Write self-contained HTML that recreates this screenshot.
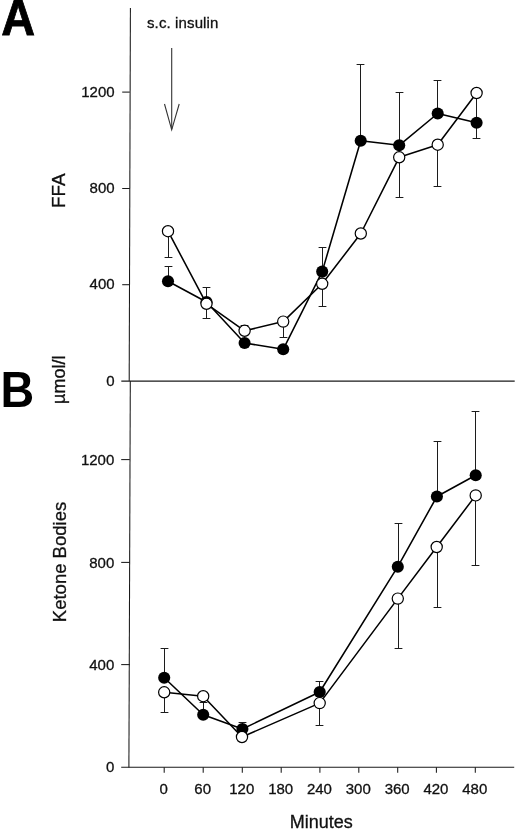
<!DOCTYPE html>
<html><head><meta charset="utf-8"><title>Figure</title>
<style>
html,body{margin:0;padding:0;background:#fff;}
svg{display:block;}
text{font-family:"Liberation Sans",Arial,Helvetica,sans-serif;fill:#111;stroke:#111;stroke-width:0.3px;}
.t{font-size:15px;}
.l{font-size:18px;}
.b{font-size:48px;font-weight:bold;fill:#000;stroke:none;}
</style></head><body>
<svg width="520" height="834" viewBox="0 0 520 834">
<rect width="520" height="834" fill="#fff"/>
<g stroke="#1a1a1a" stroke-width="1.05" fill="none">
<line x1="130.4" y1="8.1" x2="129.2" y2="381.1"/>
<line x1="130.3" y1="381.1" x2="128.9" y2="767.6"/>
<line x1="121.3" y1="381.1" x2="514.7" y2="381.1"/>
<line x1="121.2" y1="767.25" x2="514.2" y2="767.25"/>
</g>
<g stroke="#1a1a1a" stroke-width="1.05" fill="none">
<line x1="122.2" y1="92.1" x2="129.8" y2="92.1"/>
<line x1="122.2" y1="188.5" x2="129.8" y2="188.5"/>
<line x1="122.2" y1="284.7" x2="129.8" y2="284.7"/>
<line x1="121.2" y1="459.6" x2="129.8" y2="459.6"/>
<line x1="121.2" y1="562.4" x2="129.8" y2="562.4"/>
<line x1="121.2" y1="664.6" x2="129.8" y2="664.6"/>
<line x1="164.2" y1="767.2" x2="164.2" y2="772.8"/>
<line x1="203.2" y1="767.2" x2="203.2" y2="772.8"/>
<line x1="242.3" y1="767.2" x2="242.3" y2="772.8"/>
<line x1="281.2" y1="767.2" x2="281.2" y2="772.8"/>
<line x1="319.9" y1="767.2" x2="319.9" y2="772.8"/>
<line x1="358.8" y1="767.2" x2="358.8" y2="772.8"/>
<line x1="397.7" y1="767.2" x2="397.7" y2="772.8"/>
<line x1="436.4" y1="767.2" x2="436.4" y2="772.8"/>
<line x1="475.3" y1="767.2" x2="475.3" y2="772.8"/>
</g>
<g stroke="#333" stroke-width="1.1" fill="none"><line x1="171.7" y1="48" x2="171.7" y2="129"/><polyline points="164.5,104 171.7,129.8 179.2,104"/></g>
<g stroke="#1c1c1c" stroke-width="1.0" fill="none">
<line x1="168.5" y1="231.2" x2="168.5" y2="257.5"/><line x1="164.6" y1="257.5" x2="172.4" y2="257.5"/>
<line x1="168.5" y1="281.2" x2="168.5" y2="266.5"/><line x1="164.6" y1="266.5" x2="172.4" y2="266.5"/>
<line x1="206.5" y1="303.8" x2="206.5" y2="287.5"/><line x1="202.6" y1="287.5" x2="210.4" y2="287.5"/>
<line x1="206.5" y1="303.8" x2="206.5" y2="318.5"/><line x1="202.6" y1="318.5" x2="210.4" y2="318.5"/>
<line x1="244.5" y1="330.8" x2="244.5" y2="325.5"/><line x1="240.6" y1="325.5" x2="248.4" y2="325.5"/>
<line x1="283.5" y1="321.6" x2="283.5" y2="337.5"/><line x1="279.6" y1="337.5" x2="287.4" y2="337.5"/>
<line x1="322.5" y1="271.6" x2="322.5" y2="247.5"/><line x1="318.6" y1="247.5" x2="326.4" y2="247.5"/>
<line x1="322.5" y1="283.8" x2="322.5" y2="306.5"/><line x1="318.6" y1="306.5" x2="326.4" y2="306.5"/>
<line x1="360.5" y1="140.7" x2="360.5" y2="64.5"/><line x1="356.6" y1="64.5" x2="364.4" y2="64.5"/>
<line x1="399.5" y1="145.3" x2="399.5" y2="92.5"/><line x1="395.6" y1="92.5" x2="403.4" y2="92.5"/>
<line x1="399.5" y1="157.3" x2="399.5" y2="197.5"/><line x1="395.6" y1="197.5" x2="403.4" y2="197.5"/>
<line x1="437.5" y1="113.5" x2="437.5" y2="80.5"/><line x1="433.6" y1="80.5" x2="441.4" y2="80.5"/>
<line x1="437.5" y1="144.7" x2="437.5" y2="186.5"/><line x1="433.6" y1="186.5" x2="441.4" y2="186.5"/>
<line x1="476.5" y1="93" x2="476.5" y2="138.5"/><line x1="472.6" y1="138.5" x2="480.4" y2="138.5"/>
<line x1="164.5" y1="677.8" x2="164.5" y2="648.5"/><line x1="160.6" y1="648.5" x2="168.4" y2="648.5"/>
<line x1="164.5" y1="692.3" x2="164.5" y2="712.5"/><line x1="160.6" y1="712.5" x2="168.4" y2="712.5"/>
<line x1="203.5" y1="714.7" x2="203.5" y2="702.5"/><line x1="199.6" y1="702.5" x2="207.4" y2="702.5"/>
<line x1="242.5" y1="729" x2="242.5" y2="722.5"/><line x1="238.6" y1="722.5" x2="246.4" y2="722.5"/>
<line x1="319.5" y1="692" x2="319.5" y2="681.5"/><line x1="315.6" y1="681.5" x2="323.4" y2="681.5"/>
<line x1="319.5" y1="703.1" x2="319.5" y2="725.5"/><line x1="315.6" y1="725.5" x2="323.4" y2="725.5"/>
<line x1="398.5" y1="566.7" x2="398.5" y2="523.5"/><line x1="394.6" y1="523.5" x2="402.4" y2="523.5"/>
<line x1="398.5" y1="598.6" x2="398.5" y2="648.5"/><line x1="394.6" y1="648.5" x2="402.4" y2="648.5"/>
<line x1="437.5" y1="496.5" x2="437.5" y2="441.5"/><line x1="433.6" y1="441.5" x2="441.4" y2="441.5"/>
<line x1="437.5" y1="547" x2="437.5" y2="607.5"/><line x1="433.6" y1="607.5" x2="441.4" y2="607.5"/>
<line x1="475.5" y1="475.3" x2="475.5" y2="411.5"/><line x1="471.6" y1="411.5" x2="479.4" y2="411.5"/>
<line x1="475.5" y1="495.4" x2="475.5" y2="565.5"/><line x1="471.6" y1="565.5" x2="479.4" y2="565.5"/>
</g>
<g stroke="#000" stroke-width="1.55" fill="none" stroke-linejoin="round">
<polyline points="168,281.2 206.5,302 244.6,343 283.2,349.3 322.2,271.6 360.7,140.7 399.2,145.3 437.7,113.5 476.6,122.8"/>
<polyline points="168,231.2 206.5,303.8 244.6,330.8 283.2,321.6 322.2,283.8 360.8,233.5 399.2,157.3 437.7,144.7 476.6,93"/>
<polyline points="164.2,677.8 203.2,714.7 242.4,729 319.7,692 397.8,566.7 436.9,496.5 475.7,475.3"/>
<polyline points="164.2,692.3 203.2,696.2 242,737 319.7,703.1 397.8,598.6 436.7,547 475.7,495.4"/>
</g>
<circle cx="168" cy="281.2" r="6.05" fill="#000"/>
<circle cx="206.5" cy="302" r="6.05" fill="#000"/>
<circle cx="244.6" cy="343" r="6.05" fill="#000"/>
<circle cx="283.2" cy="349.3" r="6.05" fill="#000"/>
<circle cx="322.2" cy="271.6" r="6.05" fill="#000"/>
<circle cx="360.7" cy="140.7" r="6.05" fill="#000"/>
<circle cx="399.2" cy="145.3" r="6.05" fill="#000"/>
<circle cx="437.7" cy="113.5" r="6.05" fill="#000"/>
<circle cx="476.6" cy="122.8" r="6.05" fill="#000"/>
<circle cx="168" cy="231.2" r="5.6" fill="#fff" stroke="#000" stroke-width="1.2"/>
<circle cx="206.5" cy="303.8" r="5.6" fill="#fff" stroke="#000" stroke-width="1.2"/>
<circle cx="244.6" cy="330.8" r="5.6" fill="#fff" stroke="#000" stroke-width="1.2"/>
<circle cx="283.2" cy="321.6" r="5.6" fill="#fff" stroke="#000" stroke-width="1.2"/>
<circle cx="322.2" cy="283.8" r="5.6" fill="#fff" stroke="#000" stroke-width="1.2"/>
<circle cx="360.8" cy="233.5" r="5.6" fill="#fff" stroke="#000" stroke-width="1.2"/>
<circle cx="399.2" cy="157.3" r="5.6" fill="#fff" stroke="#000" stroke-width="1.2"/>
<circle cx="437.7" cy="144.7" r="5.6" fill="#fff" stroke="#000" stroke-width="1.2"/>
<circle cx="476.6" cy="93" r="5.6" fill="#fff" stroke="#000" stroke-width="1.2"/>
<circle cx="164.2" cy="677.8" r="6.05" fill="#000"/>
<circle cx="203.2" cy="714.7" r="6.05" fill="#000"/>
<circle cx="242.4" cy="729" r="6.05" fill="#000"/>
<circle cx="319.7" cy="692" r="6.05" fill="#000"/>
<circle cx="397.8" cy="566.7" r="6.05" fill="#000"/>
<circle cx="436.9" cy="496.5" r="6.05" fill="#000"/>
<circle cx="475.7" cy="475.3" r="6.05" fill="#000"/>
<circle cx="164.2" cy="692.3" r="5.6" fill="#fff" stroke="#000" stroke-width="1.2"/>
<circle cx="203.2" cy="696.2" r="5.6" fill="#fff" stroke="#000" stroke-width="1.2"/>
<circle cx="242" cy="737" r="5.6" fill="#fff" stroke="#000" stroke-width="1.2"/>
<circle cx="319.7" cy="703.1" r="5.6" fill="#fff" stroke="#000" stroke-width="1.2"/>
<circle cx="397.8" cy="598.6" r="5.6" fill="#fff" stroke="#000" stroke-width="1.2"/>
<circle cx="436.7" cy="547" r="5.6" fill="#fff" stroke="#000" stroke-width="1.2"/>
<circle cx="475.7" cy="495.4" r="5.6" fill="#fff" stroke="#000" stroke-width="1.2"/>
<text class="b" style="stroke:#000;stroke-width:0.8px" transform="translate(1.3,34.9) scale(0.975,1.045)" x="0" y="0">A</text>
<text class="b" transform="translate(0.5,407.3) scale(0.972,1.04)" x="0" y="0">B</text>
<text class="t" x="147" y="27.8" style="letter-spacing:0.12px">s.c. insulin</text>
<text class="t" x="114.6" y="96.89999999999999" text-anchor="end">1200</text>
<text class="t" x="114.6" y="193.20000000000002" text-anchor="end">800</text>
<text class="t" x="114.6" y="289.40000000000003" text-anchor="end">400</text>
<text class="t" x="114.6" y="385.90000000000003" text-anchor="end">0</text>
<text class="t" x="114.3" y="464.8" text-anchor="end">1200</text>
<text class="t" x="114.3" y="567.5999999999999" text-anchor="end">800</text>
<text class="t" x="114.3" y="669.8" text-anchor="end">400</text>
<text class="t" x="114.3" y="772.3" text-anchor="end">0</text>
<text class="t" x="163.7" y="793.8" text-anchor="middle">0</text>
<text class="t" x="202.7" y="793.8" text-anchor="middle">60</text>
<text class="t" x="241.8" y="793.8" text-anchor="middle">120</text>
<text class="t" x="280.7" y="793.8" text-anchor="middle">180</text>
<text class="t" x="319.4" y="793.8" text-anchor="middle">240</text>
<text class="t" x="358.3" y="793.8" text-anchor="middle">300</text>
<text class="t" x="397.2" y="793.8" text-anchor="middle">360</text>
<text class="t" x="435.9" y="793.8" text-anchor="middle">420</text>
<text class="t" x="474.8" y="793.8" text-anchor="middle">480</text>
<text class="l" x="321.3" y="827.5" text-anchor="middle">Minutes</text>
<text class="l" style="font-size:19px" transform="translate(64.9,190.7) rotate(-90)" text-anchor="middle">FFA</text>
<text class="l" transform="translate(64.8,379.8) rotate(-90)" text-anchor="middle">µmol/l</text>
<text class="l" style="font-size:18.5px" transform="translate(66.4,562.0) rotate(-90)" text-anchor="middle">Ketone Bodies</text>
</svg></body></html>
